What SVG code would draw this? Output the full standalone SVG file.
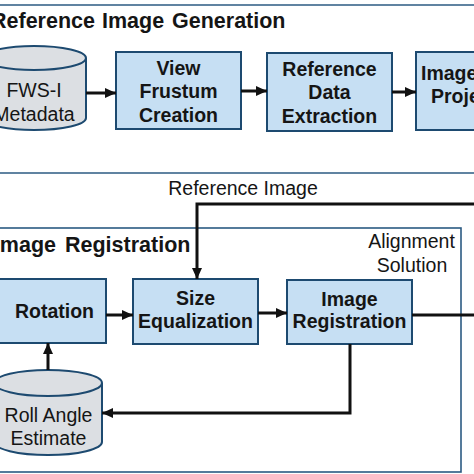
<svg xmlns="http://www.w3.org/2000/svg" width="474" height="474" viewBox="0 0 474 474">
<style>
.frame{fill:none;stroke:#2b5a82;stroke-width:1.6}
.box{fill:#c6dff3;stroke:#1d4a70;stroke-width:2}
.cyl{fill:#dcdfe3;stroke:#1d4a70;stroke-width:2}
.b{font-family:"Liberation Sans",Arial,sans-serif;font-weight:bold;font-size:19.5px;fill:#151515;text-anchor:middle}
.r{font-family:"Liberation Sans",Arial,sans-serif;font-size:19.5px;fill:#151515;text-anchor:middle}
.t{font-family:"Liberation Sans",Arial,sans-serif;font-weight:bold;font-size:21.5px;fill:#151515}
.c{fill:none;stroke:#111;stroke-width:3}
</style>
<defs>
<marker id="ah" markerUnits="userSpaceOnUse" markerWidth="11" markerHeight="10" refX="11" refY="5" orient="auto">
<path d="M0,0 L11,5 L0,10 z" fill="#111"/>
</marker>
</defs>
<rect width="474" height="474" fill="#fff"/>
<g id="frames">
<path class="frame" d="M-10,5 H484"/>
<path class="frame" d="M-10,173 H484"/>
<rect class="frame" x="-10" y="228" width="471" height="244"/>
</g>
<g id="titles">
<text class="t" x="95" y="28" text-anchor="end">Reference</text>
<text class="t" x="102" y="28">Image</text>
<text class="t" x="172" y="28">Generation</text>
<text class="t" x="56" y="252" text-anchor="end">Image</text>
<text class="t" x="65" y="252">Registration</text>
</g>
<g id="fws">
<path class="cyl" d="M-18,58 A52,12 0 0 1 86,58 V118 A52,12 0 0 1 -18,118 Z"/>
<path class="cyl" d="M-18,58 A52,12 0 0 0 86,58"/>
<text class="r" x="34" y="97">FWS-I</text>
<text class="r" x="34" y="121">Metadata</text>
</g>
<g id="view">
<rect class="box" x="116" y="52" width="125" height="77"/>
<text class="b" x="178.5" y="75">View</text>
<text class="b" x="178.5" y="98">Frustum</text>
<text class="b" x="178.5" y="122">Creation</text>
</g>
<g id="refdata">
<rect class="box" x="267" y="53" width="125" height="78"/>
<text class="b" x="329.5" y="76">Reference</text>
<text class="b" x="329.5" y="99">Data</text>
<text class="b" x="329.5" y="123">Extraction</text>
</g>
<g id="imgproj">
<rect class="box" x="416" y="52" width="125" height="78"/>
<text class="b" x="421" y="80" style="text-anchor:start">Image</text>
<text class="b" x="431" y="103" style="text-anchor:start">Projection</text>
</g>
<g id="rotation">
<rect class="box" x="-10" y="279" width="116" height="64"/>
<text class="b" x="54.5" y="318">Rotation</text>
</g>
<g id="size">
<rect class="box" x="133" y="279" width="125" height="65"/>
<text class="b" x="195.5" y="305">Size</text>
<text class="b" x="195.5" y="328">Equalization</text>
</g>
<g id="imgreg">
<rect class="box" x="287" y="280" width="125" height="64"/>
<text class="b" x="349.5" y="306">Image</text>
<text class="b" x="349.5" y="328">Registration</text>
</g>
<g id="roll">
<path class="cyl" d="M-6,383 A54,13 0 0 1 102,383 V442 A54,13 0 0 1 -6,442 Z"/>
<path class="cyl" d="M-6,383 A54,13 0 0 0 102,383"/>
<text class="r" x="48.5" y="422">Roll Angle</text>
<text class="r" x="48.5" y="445">Estimate</text>
</g>
<g id="labels">
<text class="r" x="243" y="195">Reference Image</text>
<text class="r" x="411.5" y="248">Alignment</text>
<text class="r" x="412" y="272">Solution</text>
</g>
<g id="connectors">
<path class="c" d="M86,93 H116" marker-end="url(#ah)"/>
<path class="c" d="M241,91 H267" marker-end="url(#ah)"/>
<path class="c" d="M392,92 H416" marker-end="url(#ah)"/>
<path class="c" d="M480,204 H197 V279" marker-end="url(#ah)"/>
<path class="c" d="M106,315 H133" marker-end="url(#ah)"/>
<path class="c" d="M258,313 H287" marker-end="url(#ah)"/>
<path class="c" d="M412,315 H480"/>
<path class="c" d="M350,344 V413 H102" marker-end="url(#ah)"/>
<path class="c" d="M48,370 V343" marker-end="url(#ah)"/>
</g>
</svg>
